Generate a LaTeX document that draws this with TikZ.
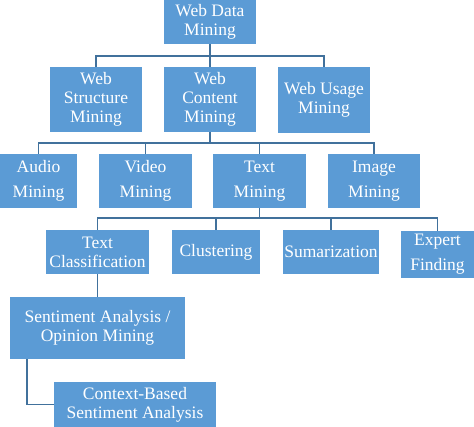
\documentclass[tikz,border=0pt]{standalone}
\usepackage{fontspec}
\setmainfont{Liberation Serif}
\definecolor{boxfill}{HTML}{5B9BD5}
\definecolor{linecol}{HTML}{41719C}
\begin{document}
\begin{tikzpicture}[x=1pt,y=-1pt,
  box/.style={fill=boxfill, draw=none, text=white, align=center, inner sep=0pt,
    font=\fontsize{17.5}{19}\selectfont},
  loose/.style={font=\fontsize{17.5}{25}\selectfont},
  conn/.style={draw=linecol, line width=1.6pt}]
\useasboundingbox[fill=white] (0,0) rectangle (474,427);
\node[box, minimum width=92pt, minimum height=44pt] (wdm) at (210,22) {Web Data\\Mining};
\node[box, minimum width=92pt, minimum height=65pt] (wsm) at (96,99.5) {Web\\Structure\\Mining};
\node[box, minimum width=92pt, minimum height=65pt] (wcm) at (210,99.5) {Web\\Content\\Mining};
\node[box, minimum width=92pt, minimum height=66pt] (wum) at (324,100) {Web Usage\\Mining};
\node[box, loose, minimum width=77pt, minimum height=54pt] (audio) at (38.5,181) {Audio\\Mining};
\node[box, loose, minimum width=93pt, minimum height=54pt] (video) at (145.5,181) {Video\\Mining};
\node[box, loose, minimum width=93pt, minimum height=54pt] (text) at (259.5,181) {Text\\Mining};
\node[box, loose, minimum width=92pt, minimum height=54pt] (image) at (374,181) {Image\\Mining};
\node[box, minimum width=103pt, minimum height=44pt] (tc) at (97.5,252) {Text\\Classification};
\node[box, minimum width=88pt, minimum height=44pt] (clus) at (216,252) {Clustering};
\node[box, minimum width=96pt, minimum height=44pt] (sum) at (331,252) {Sumarization};
\node[box, loose, minimum width=73pt, minimum height=47pt] (exp) at (437.5,254.5) {Expert\\Finding};
\node[box, minimum width=175pt, minimum height=62pt] (sa) at (97.5,328) {Sentiment Analysis /\\Opinion Mining};
\node[box, minimum width=162pt, minimum height=45pt] (cb) at (135,404.5) {Context-Based\\Sentiment Analysis};
\coordinate (b1) at (210,56);
\coordinate (b2) at (210,143);
\coordinate (b3) at (259.5,218);
\draw[conn] (wdm.south) -- (b1);
\draw[conn] (wsm.north) |- (b1);
\draw[conn] (wum.north) |- (b1);
\draw[conn] (wcm.north) -- (b1);
\draw[conn] (wcm.south) -- (b2);
\draw[conn] (audio.north) |- (b2);
\draw[conn] (video.north) |- (b2);
\draw[conn] (image.north) |- (b2);
\draw[conn] (text.north) |- (b2);
\draw[conn] (text.south) -- (b3);
\draw[conn] (tc.north) |- (b3);
\draw[conn] (clus.north) |- (b3);
\draw[conn] (sum.north) |- (b3);
\draw[conn] (exp.north) |- (b3);
\draw[conn] (tc.south) -- (sa.north);
\draw[conn] ([xshift=17pt]sa.south west) |- (cb.west);
\end{tikzpicture}
\end{document}
